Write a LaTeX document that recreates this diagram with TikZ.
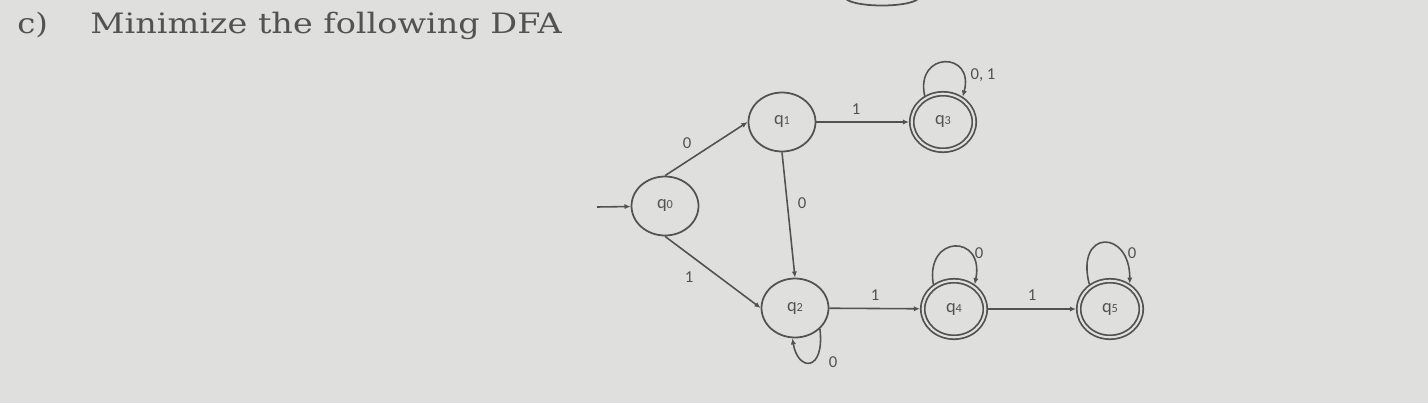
\documentclass[tikz,border=0pt]{standalone}
\usepackage{graphicx}
\usepackage{fontspec}
\newfontfamily\lblfont{Carlito}
\newfontfamily\taskfont{DejaVu Serif}
\usetikzlibrary{arrows.meta,shapes}
\definecolor{paper}{RGB}{223,223,222}
\definecolor{ink}{RGB}{82,82,82}
\newcommand{\qst}[1]{q{\fontsize{7}{7}\selectfont #1}}

\begin{document}
\begin{tikzpicture}[x=0.02cm,y=-0.02cm,
	state/.style={ellipse,draw=ink,line width=1pt,minimum width=1.34cm,minimum height=1.18cm,inner sep=0pt,text=ink,font=\lblfont\fontsize{10.5}{12}\selectfont},
	accept/.style={state,double=paper,double distance=1.2pt,minimum width=1.25cm,minimum height=1.13cm,outer sep=1.6pt},
	trans/.style={draw=ink,line width=0.9pt,-{Latex[length=3.5pt,width=3pt]}},
	lbl/.style={inner sep=0pt,text=ink,font=\lblfont\fontsize{9.5}{11}\selectfont},
	task/.style={anchor=base west,inner sep=0pt,text=ink,font=\taskfont\fontsize{16}{19}\selectfont}]
\useasboundingbox (0,0) rectangle (1428,403);
\fill [paper] (0,0) rectangle (1428,403);
\draw [ink,line width=1pt] (882,-3) ellipse [x radius=37,y radius=8.5];
\node [task] (part) at (17,33) {\scalebox{1.15}[1]{c)}};
\node [task] (text) at (90,33) {\scalebox{1.19}[1]{Minimize the following DFA}};
\node [state] (q0) at (665,206) {\qst{0}};
\node [state] (q1) at (782,122) {\qst{1}};
\node [accept] (q3) at (943,122) {\qst{3}};
\node [state] (q2) at (795,308) {\qst{2}};
\node [accept] (q4) at (954,309) {\qst{4}};
\node [accept] (q5) at (1110,309) {\qst{5}};
\coordinate (start) at (597,207);
\draw [trans] (start)-- (q0);
\draw [trans] (q0.north)-- (q1.west);
\draw [trans] (q0.south)-- (q2.west);
\draw [trans] (q1)-- (q3);
\draw [trans] (q1.south)-- (q2.north);
\draw [trans] (q2)-- (q4);
\draw [trans] (q4)-- (q5);
\draw [trans] (q3.125) .. controls (915,51) and (975,51) .. (q3.52);
\draw [trans] (q4.130) .. controls (925,234) and (985,234) .. (q4.50);
\draw [trans] (q5.130) .. controls (1075,229) and (1130,229) .. (q5.52);
\draw [trans] (q2.-40) .. controls (825,372) and (798,372) .. (q2.-95);
\node [lbl] (l01) at (687,143) {0};
\node [lbl] (l02) at (689,277) {1};
\node [lbl] (l13) at (856,109) {1};
\node [lbl] (l12) at (802,203) {0};
\node [lbl] (l33) at (983,75) {0, 1};
\node [lbl] (l24) at (875,295) {1};
\node [lbl] (l44) at (979,253) {0};
\node [lbl] (l45) at (1032,295) {1};
\node [lbl] (l55) at (1132,253) {0};
\node [lbl] (l22) at (833,362) {0};
\end{tikzpicture}
\end{document}
